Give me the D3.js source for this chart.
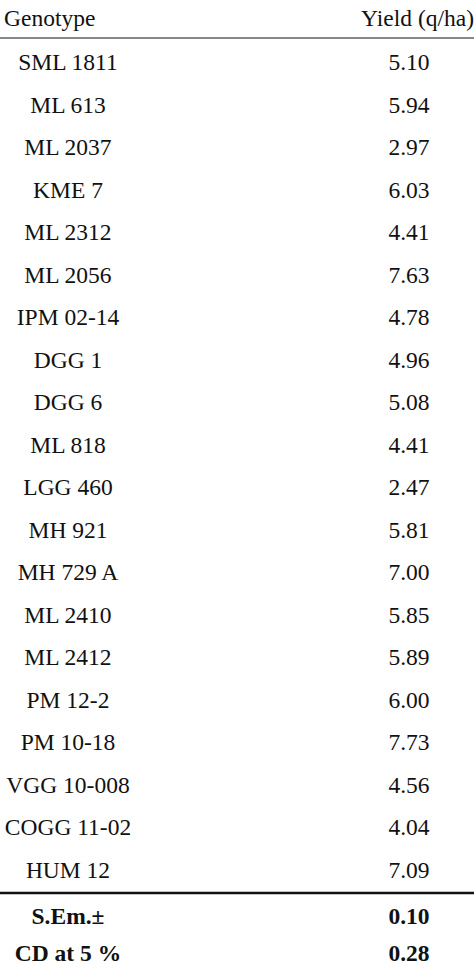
<!DOCTYPE html>
<html><head><meta charset="utf-8">
<script src="https://cdn.jsdelivr.net/npm/d3@7"></script>
<style>body{margin:0;background:#fff}text{font-family:"Liberation Serif","DejaVu Serif",serif;fill:#111}</style>
</head><body>
<script>
const headers = ["Genotype", "Yield (q/ha)"];
const genotypes = ["SML 1811","ML 613","ML 2037","KME 7","ML 2312","ML 2056","IPM 02-14","DGG 1","DGG 6","ML 818","LGG 460","MH 921","MH 729 A","ML 2410","ML 2412","PM 12-2","PM 10-18","VGG 10-008","COGG 11-02","HUM 12"];
const yields = ["5.10","5.94","2.97","6.03","4.41","7.63","4.78","4.96","5.08","4.41","2.47","5.81","7.00","5.85","5.89","6.00","7.73","4.56","4.04","7.09"];
const statLabels = ["S.Em.±","CD at 5 %"];
const statValues = ["0.10","0.28"];

const W=474,H=964;
const svg=d3.select("body").append("svg").attr("width",W).attr("height",H);
const y=d3.scalePoint().domain(genotypes).range([62,870]);
const fs=23.5;
svg.append("text").attr("x",4).attr("y",18).attr("dominant-baseline","central").attr("font-size",fs).text(headers[0]);
svg.append("text").attr("x",474).attr("y",18).attr("text-anchor","end").attr("dominant-baseline","central").attr("font-size",fs).text(headers[1]);
svg.append("line").attr("x1",0).attr("x2",W).attr("y1",38).attr("y2",38).attr("stroke","#111").attr("stroke-width",1.2);
genotypes.forEach((g,i)=>{
  svg.append("text").attr("x",68).attr("y",y(g)).attr("text-anchor","middle").attr("dominant-baseline","central").attr("font-size",fs).text(g);
  svg.append("text").attr("x",409).attr("y",y(g)).attr("text-anchor","middle").attr("dominant-baseline","central").attr("font-size",fs).text(yields[i]);
});
svg.append("line").attr("x1",0).attr("x2",W).attr("y1",893).attr("y2",893).attr("stroke","#111").attr("stroke-width",2.5);
const sy=d3.scalePoint().domain(statLabels).range([916,953]);
statLabels.forEach((s,i)=>{
  svg.append("text").attr("x",68).attr("y",sy(s)).attr("text-anchor","middle").attr("dominant-baseline","central").attr("font-size",fs).attr("font-weight","bold").text(s);
  svg.append("text").attr("x",409).attr("y",sy(s)).attr("text-anchor","middle").attr("dominant-baseline","central").attr("font-size",fs).attr("font-weight","bold").text(statValues[i]);
});
</script></body></html>
